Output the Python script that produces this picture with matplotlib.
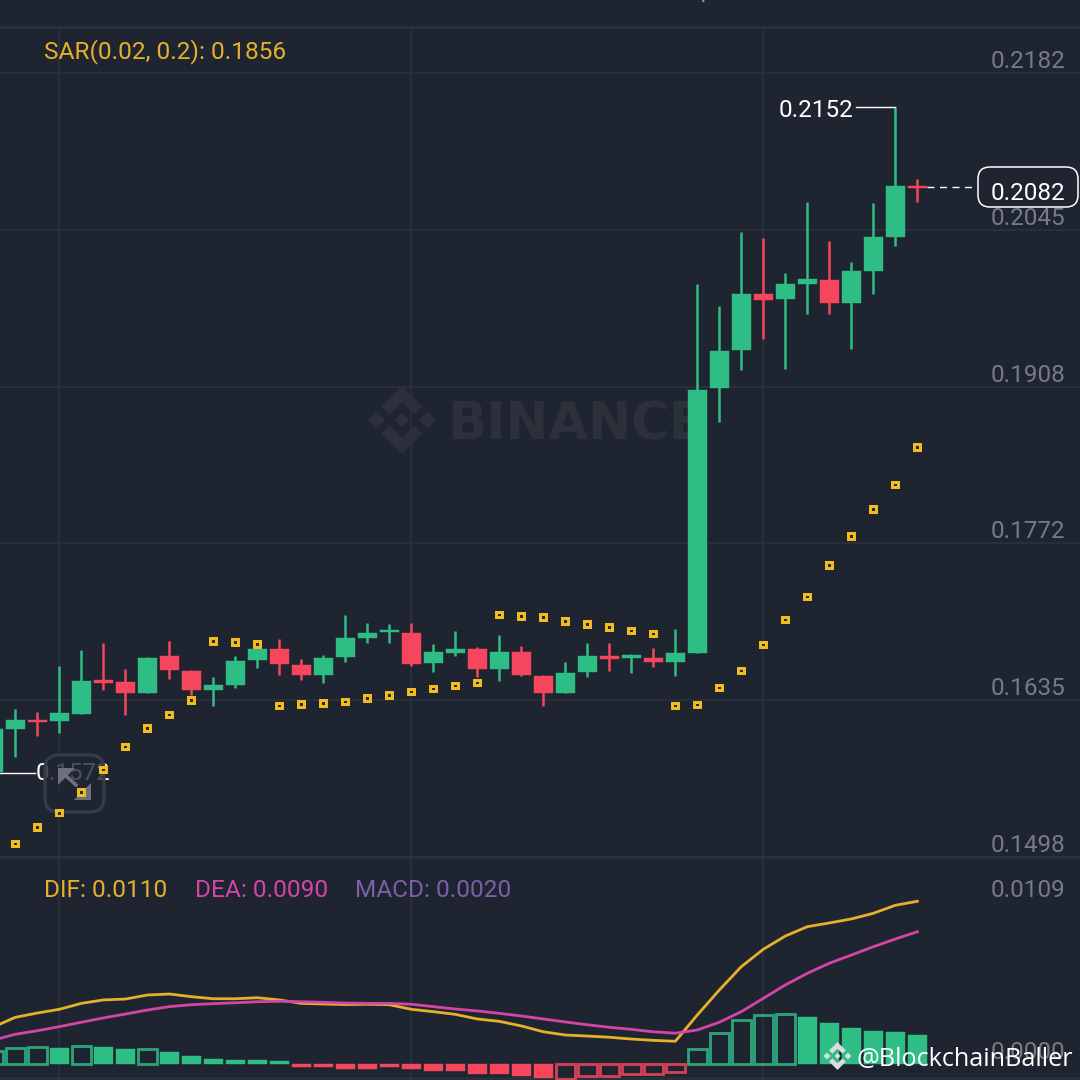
import matplotlib
matplotlib.use("Agg")
import matplotlib.pyplot as plt
from matplotlib.colors import to_rgba
from matplotlib.patches import FancyBboxPatch, Polygon

plt.rcParams['font.family'] = ['Roboto', 'DejaVu Sans']

# ---------- data ----------
index = list(range(-1, 42))
opens = [.15722,.16100,.16176,.16169,.16228,.16524,.16507,.16408,.16731,.16600,.16437,.16478,.16699,.16798,.16658,.16568,.16728,.16891,.16941,.16932,.16670,.16760,.16798,.16620,.16769,.16557,.16408,.16592,.16731,.16719,.16714,.16679,.16760,.19072,.19404,.19892,.19851,.19982,.20012,.19811,.20093,.20392,.20834]
highs = [.16130,.16271,.16248,.16649,.16786,.16850,.16620,.16728,.16862,.16612,.16548,.16731,.16803,.16880,.16708,.16743,.17092,.17019,.17010,.17024,.16839,.16949,.16812,.16920,.16821,.16565,.16679,.16850,.16847,.16749,.16801,.16969,.19979,.19787,.20430,.20383,.20073,.20692,.20355,.20171,.20683,.21520,.20893]
lows = [.15710,.15853,.16036,.16065,.16228,.16437,.16219,.16408,.16536,.16394,.16298,.16457,.16627,.16568,.16527,.16498,.16679,.16850,.16850,.16647,.16597,.16736,.16548,.16518,.16559,.16298,.16408,.16548,.16600,.16588,.16638,.16559,.16760,.18775,.19229,.19502,.19240,.19720,.19720,.19410,.19892,.20314,.20695]
closes = [.16097,.16176,.16154,.16237,.16518,.16498,.16408,.16719,.16609,.16437,.16478,.16688,.16798,.16661,.16568,.16716,.16888,.16932,.16961,.16661,.16769,.16798,.16620,.16769,.16571,.16408,.16588,.16736,.16705,.16740,.16679,.16757,.19055,.19398,.19892,.19842,.19979,.20023,.19811,.20090,.20392,.20832,.20820]

sar_index = list(range(0, 42))
sar = [.15094,.15236,.15362,.15541,.15739,.15940,.16103,.16219,.16347,.16862,.16850,.16836,.16298,.16309,.16321,.16333,.16365,.16391,.16420,.16446,.16472,.16498,.17092,.17080,.17068,.17037,.17007,.16981,.16952,.16926,.16298,.16306,.16455,.16603,.16830,.17048,.17249,.17523,.17776,.18012,.18226,.18553]

dif = [.00249,.00314,.00343,.00368,.00408,.00431,.00437,.00464,.00471,.00453,.00439,.00439,.00446,.00431,.00408,.00404,.00400,.00402,.00399,.00368,.00352,.00334,.00303,.00287,.00256,.00217,.00195,.00188,.00180,.00168,.00159,.00153,.00330,.00498,.00655,.00772,.00861,.00924,.00949,.00976,.01014,.01068,.01095]
dea = [.00161,.00200,.00224,.00251,.00281,.00310,.00336,.00363,.00386,.00399,.00406,.00412,.00419,.00422,.00419,.00415,.00410,.00408,.00408,.00402,.00386,.00370,.00357,.00341,.00323,.00303,.00283,.00264,.00247,.00233,.00217,.00207,.00229,.00281,.00352,.00442,.00532,.00610,.00678,.00733,.00789,.00841,.00890]
hist = [.00089,.00106,.00112,.00108,.00121,.00112,.00099,.00101,.00081,.00054,.00032,.00027,.00027,.00018,-.00020,-.00020,-.00032,-.00032,-.00020,-.00036,-.00045,-.00049,-.00065,-.00067,-.00081,-.00094,-.00099,-.00081,-.00079,-.00069,-.00069,-.00054,.00103,.00211,.00296,.00330,.00336,.00318,.00274,.00242,.00222,.00217,.00197]
hist_hollow = [1,1,1,0,1,0,0,1,0,0,0,0,0,0,0,0,0,0,0,0,0,0,0,0,0,0,1,1,1,1,1,1,1,1,1,1,1,0,0,0,0,0,0]

price_ticks = [.2182,.2045,.1908,.1772,.1635,.1498]
price_tick_labels = ['0.2182','0.2045','0.1908','0.1772','0.1635','0.1498']
macd_ticks = [.0109,.0000]
macd_tick_labels = ['0.0109','0.0000']
time_ticks = [2,18,34]

# ---------- styles ----------
BG='#1F2530'; GRID='#2C323D'; GREEN='#2EBD85'; RED='#F6465D'; YEL='#E5B12B'; DOT='#F0BC1E'
PINK='#D445A8'; PURP='#7D5FA9'; GRAY='#767B84'; WM='#2B303B'
FS=17.5
W=H=1080
fig=plt.figure(figsize=(10.8,10.8),dpi=100,facecolor=BG)
def make_ax(top,bot):
    a=fig.add_axes([0,1-bot/H,1,(bot-top)/H],facecolor='none')
    for s in a.spines.values(): s.set_visible(False)
    a.set_xlim(-15.33/22,(1080-15.33)/22)
    a.set_xticks(time_ticks,labels=[])
    a.tick_params(axis='x',length=0)
    a.tick_params(axis='y',length=0,direction='in',pad=-10.5,labelleft=False,labelright=True,labelsize=FS,labelcolor=GRAY)
    a.grid(True,color=GRID,lw=1.2,zorder=0.5)
    a.set_axisbelow(True)
    return a
ax=make_ax(27,857); mx=make_ax(857,1080)
ax.set_ylim(.2182-(857-73)*8.7245e-5,.2182+46*8.7245e-5)
mx.set_ylim(-16*6.7286e-5,207*6.7286e-5)
ax.set_yticks(price_ticks,labels=price_tick_labels)
mx.set_yticks(macd_ticks,labels=macd_tick_labels)
for a in (ax,mx):
    for t in a.get_yticklabels(): t.set_ha('right'); t.set_va('bottom')
mx.yaxis.grid(False)
ax.axhline(ax.get_ylim()[0],color=GRID,lw=1.8,clip_on=False,zorder=.5)
ax.axhline(ax.get_ylim()[1],color=GRID,lw=1.8,clip_on=False,zorder=.5)
mx.axhline(-13.7*6.7286e-5,color=GRID,lw=1.8,zorder=.5)

# pixel-space overlay for decorations
ov=fig.add_axes([0,0,1,1],facecolor='none',zorder=10)
ov.set_xlim(0,W); ov.set_ylim(H,0); ov.axis('off')
T=ov.transData

def logo(a,cx,cy,R,color,z):
    shapes=[[(0,-1),(.6,-.4),(.36,-.16),(0,-.52),(-.36,-.16),(-.6,-.4)],
            [(0,1),(.6,.4),(.36,.16),(0,.52),(-.36,.16),(-.6,.4)],
            [(0,-.22),(.22,0),(0,.22),(-.22,0)],
            [(-.75,-.25),(-.5,0),(-.75,.25),(-1,0)],
            [(.75,-.25),(1,0),(.75,.25),(.5,0)]]
    for s in shapes:
        a.add_patch(Polygon([(cx+R*x,cy+R*y) for x,y in s],closed=True,fc=color,ec='none',transform=T,zorder=z,clip_on=False))

# watermark, behind the candles
logo(ax,402,420,34,WM,0.3)
ax.text(447,420,'BINANCE',transform=T,color=WM,fontsize=37,fontweight='bold',ha='left',va='center_baseline',zorder=0.3,family=['DejaVu Sans'])

# candles
for i,o,h,l,c in zip(index,opens,highs,lows,closes):
    col=GREEN if c>=o else RED
    ax.vlines(i,l,h,color=col,lw=1.8,zorder=3)
    ax.bar(i,abs(c-o),bottom=min(o,c),width=.885,color=col,edgecolor=col,lw=.3,zorder=3.1)

# SAR
ax.scatter(sar_index,sar,marker='s',s=38,color=DOT,edgecolors='none',zorder=5)
ax.scatter(sar_index,sar,marker='s',s=4,color='#2a2720',edgecolors='none',zorder=5.1)

# low / high annotations
low_val=.1571; high_val=.2152
ax.plot([-1,.89],[low_val,low_val],color='white',lw=1,zorder=1)
ax.annotate('0.1572',xy=(-1,low_val),xytext=(30.8,0),textcoords='offset points',color='white',fontsize=FS,ha='left',va='center',zorder=1,annotation_clip=False)
ax.plot([38.2,40],[high_val,high_val],color='white',lw=1,zorder=6)
ax.annotate('0.2152',xy=(40,high_val),xytext=(-30,-.7),textcoords='offset points',color='white',fontsize=FS,ha='right',va='center_baseline',zorder=6)
ax.plot([41.45,43.7],[closes[-1]+.00002]*2,color='white',lw=1,dashes=(5,4),zorder=6)

# expand button (under SAR dots, over the low label)
ax.add_patch(FancyBboxPatch((55,765),39,37,boxstyle='round,pad=10,rounding_size=14',fc=to_rgba(BG,.8),ec='#373D48',lw=2.2,transform=T,zorder=2,clip_on=False))
ax.add_patch(Polygon([(58,768),(75,768),(58,785)],fc='#6B707C',ec='none',transform=T,zorder=2.1,clip_on=False))
ax.plot([64,76],[774,785],color='#6B707C',lw=2.6,transform=T,zorder=2.1,clip_on=False)
ax.add_patch(Polygon([(91,800),(91,783),(74,800)],fc='#6B707C',ec='none',transform=T,zorder=2.1,clip_on=False))

# MACD pane
for i,v,hol in zip(index,hist,hist_hollow):
    col=GREEN if v>=0 else RED
    if hol: mx.bar(i,v,width=.885,facecolor='none',edgecolor=col,lw=2,alpha=.85,zorder=3)
    else:   mx.bar(i,v,width=.885,color=col,edgecolor=col,lw=.3,zorder=3)
mx.plot(index,dif,color=YEL,lw=2,zorder=4)
mx.plot(index,dea,color=PINK,lw=2,zorder=4.1)

# legend texts
ts=dict(transform=T,fontsize=17.6,va='center_baseline',ha='left')
ov.text(44,49,'SAR(0.02, 0.2): 0.1856',color=YEL,**ts)
ov.text(44,888,'DIF: 0.0110',color=YEL,**ts)
ov.text(195,888,'DEA: 0.0090',color=PINK,**ts)
ov.text(355,888,'MACD: 0.0020',color=PURP,**ts)
ov.text(707,-7,'p',color='#9a9ea6',fontsize=15,ha='center',va='center',clip_on=True)

# last price tag
ov.add_patch(FancyBboxPatch((988,177),80,20,boxstyle='round,pad=10,rounding_size=12',fc=BG,ec='white',lw=1.1,zorder=8,clip_on=False))
ov.text(1065,191,'0.2082',color='white',fontsize=FS,ha='right',va='center_baseline',zorder=9)

# bottom watermark
logo(ov,837.5,1056,14,'#D9DBDC',9)
ov.text(857,1056,'@BlockchainBaller',color='white',fontsize=18.2,ha='left',va='center_baseline',zorder=9,family=['Open Sans','DejaVu Sans'])

fig.savefig('out.png',dpi=100,facecolor=BG)
